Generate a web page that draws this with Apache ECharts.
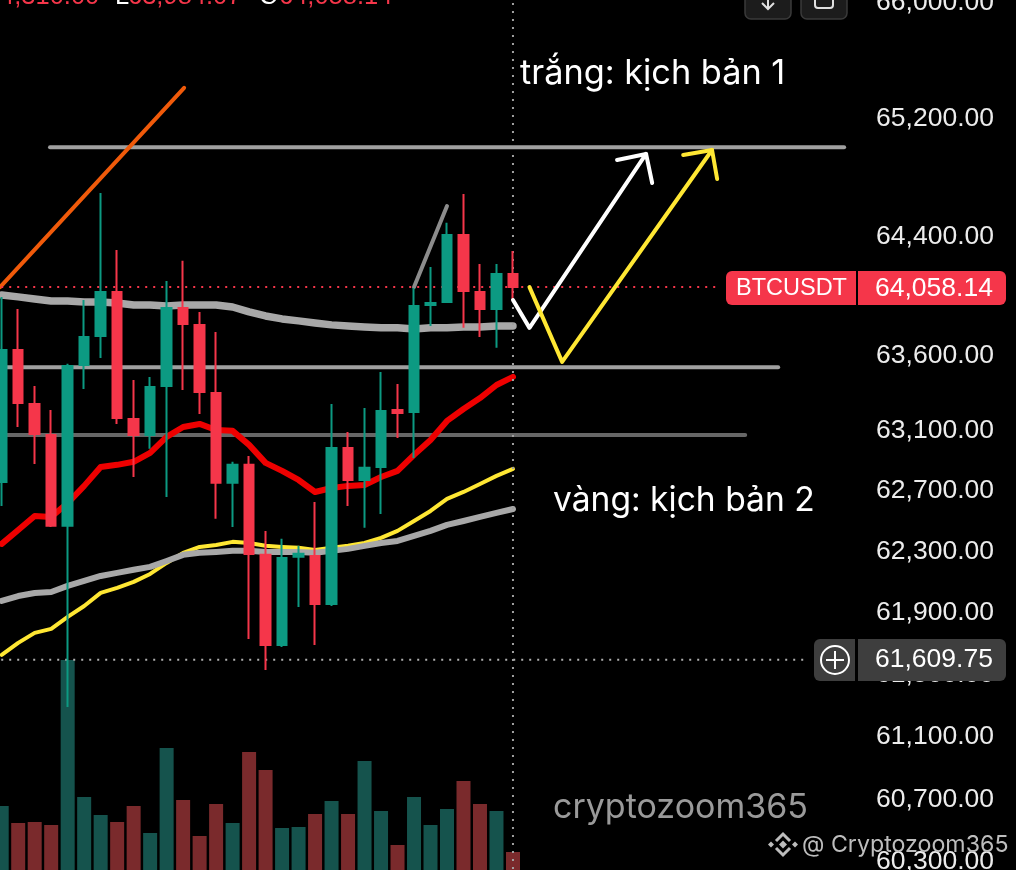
<!DOCTYPE html>
<html><head><meta charset="utf-8">
<style>html,body{margin:0;padding:0;background:#000;overflow:hidden;width:1016px;height:870px}
#c{position:absolute;left:-7px;top:-7px;width:1023px;height:877px}</style>
<script src="https://cdn.jsdelivr.net/npm/echarts@6/dist/echarts.min.js"></script>
</head><body><div id="c"></div>
<script>
// category slots: 32 drawn bars + empty future slots
const categories = Array.from({length:62},(_,i)=>String(i));
const tickLabels = [66000,65200,64400,63600,63100,62700,62300,61900,61500,61100,60700,60300];
const lastPrice = 64058.14;
const crossPrice = 61597;
const candles = [
[62759,63636,62601,63991],[63636,63282,63123,63911],[63276,63077,62878,63396],[63070,62470,62463,63236],
[62470,63529,61292,63543],[63536,63723,63376,63971],[63730,64025,63583,64695],[64025,63183,63143,64309],
[63176,63070,62792,63436],[63070,63389,62978,63456],[63396,63917,62660,64099],[63917,63810,63369,64235],
[63804,63356,63209,63891],[63349,62753,62516,63757],[62753,62872,62463,62892],[62872,62286,61732,62931],
[62280,61693,61531,62437],[61693,62260,61680,62385],[62267,62287,61940,62339],[62273,61959,61693,62627],
[61959,62984,61946,63276],[62984,62772,62601,63090],[62772,62852,62457,63249],[62858,63229,62548,63489],
[63235,63215,63050,63409],[63223,63931,62918,64052],[63938,63951,63797,64194],[63958,64410,63951,64492],
[64410,64032,63784,64688],[64025,63911,63723,64214],[63911,64147,63650,64214],[64147,64058.14,63971,64302]];
const volumes = [64,47,48,45,210,73,55,48,64,37,122,70,34,66,47,118,100,42,43,56,69,56,109,59,25,73,45,61,89,66,59,18];
const maRed = [62352,62443,62535,62529,62620,62733,62858,62872,62892,62951,63057,63123,63143,63103,63097,63004,62885,62832,62772,62693,62719,62733,62739,62792,62832,62938,63037,63163,63242,63315,63402,63456];
const maYellow = [61629,61706,61771,61797,61875,61946,62031,62064,62103,62155,62227,62293,62332,62345,62365,62358,62339,62332,62326,62312,62326,62339,62358,62391,62437,62502,62568,62647,62693,62746,62799,62845];
const maGrayLow = [61979,62011,62031,62037,62077,62109,62142,62162,62182,62201,62240,62280,62293,62299,62306,62306,62299,62299,62299,62293,62306,62319,62339,62358,62371,62404,62437,62476,62502,62529,62555,62581];
const maGrayHigh = [64005,63992,63978,63964,63964,63958,63958,63951,63938,63938,63931,63938,63938,63938,63924,63891,63864,63844,63831,63817,63804,63797,63790,63784,63784,63777,63784,63784,63790,63790,63797,63797];
// drawn trend lines: [slot, price]
const lineOrange = [[-0.1,64058],[11.06,65414]];
const lineGrayDiag = [[25,64058],[27,64606]];
const levelTop = [[2.93,65006],[51.08,65006]];
const levelMid = [[-1,63521],[47.08,63521]];
const levelLow = [[-1,63070],[45.08,63070]];
const arrowWhite = [[31,63971],[32,63784],[39.07,64961]];
const arrowWhiteHead = [[37.31,64920],[39.07,64961],[39.44,64763]];
const arrowYellow = [[32,64058],[33.98,63556],[43.07,64988]];
const arrowYellowHead = [[41.32,64954],[43.07,64988],[43.38,64790]];
const priceDots = [[-1,lastPrice],[43.6,lastPrice]];
const crossDots = [[-1,crossPrice],[48.9,crossPrice]];
const vertDots = [[31,60256],[31,66069]];

const UP='#0C9A82', DOWN='#F5364A', VUP='#15534D', VDOWN='#7A2A2C';
const FONT='Inter, Roboto, sans-serif';
const NUM='"Liberation Sans", Arial, sans-serif';
function overlay(data,color,width,z,extra){
  return {type:'line',xAxisIndex:1,yAxisIndex:0,data:data,symbol:'none',silent:true,animation:false,z:z,clip:false,
    lineStyle:Object.assign({color:color,width:width,cap:'round',join:'round'},extra||{})};
}
function ma(data,color,width,z){
  return {type:'line',xAxisIndex:0,yAxisIndex:0,data:data,symbol:'none',silent:true,animation:false,z:z,
    lineStyle:{color:color,width:width,cap:'round',join:'round'}};
}
function txt(t,x,y,size,color,font){
  return {type:'text',z:100,x:x,y:y,style:{text:t,fill:color,font:size+'px '+(font||FONT),align:'left',verticalAlign:'middle'}};
}
function box(x,y,w,h,fill,r){
  return {type:'rect',z:90,shape:{x:x,y:y,width:w,height:h,r:r},style:{fill:fill}};
}
function poly(points,stroke,w){
  return {type:'polyline',z:101,shape:{points:points},style:{stroke:stroke,lineWidth:w,fill:null,lineCap:'butt'}};
}
function dia(cx,cy,r,fill){
  return {type:'polygon',z:101,shape:{points:[[cx,cy-r],[cx+r,cy],[cx,cy+r],[cx-r,cy]]},style:{fill:fill}};
}
const WM='#bdbdbd';
const graphics=[
  txt('4,310.00',0,-3,25.5,DOWN,NUM),
  txt('L',115,-3,25.5,'#ffffff',NUM),
  txt('63,984.07',128,-3,25.5,DOWN,NUM),
  txt('C',259,-3,25.5,'#ffffff',NUM),
  txt('64,058.14',279,-3,25.5,DOWN,NUM),
  {type:'rect',z:90,shape:{x:745,y:-12,width:46,height:31,r:6},style:{fill:'#1c1c1c',stroke:'#3a3a3a',lineWidth:1.5}},
  {type:'rect',z:90,shape:{x:801,y:-12,width:46,height:31,r:6},style:{fill:'#1c1c1c',stroke:'#3a3a3a',lineWidth:1.5}},
  poly([[762,3],[768,9],[774,3]],'#e0e0e0',2),
  poly([[768,0],[768,8]],'#e0e0e0',2),
  {type:'rect',z:101,shape:{x:815,y:-8,width:18,height:16,r:3},style:{fill:null,stroke:'#e0e0e0',lineWidth:2}},
  txt('trắng: kịch bản 1',520,74,34.3,'#ffffff'),
  txt('vàng: kịch bản 2',553,501,33.6,'#ffffff'),
  txt('cryptozoom365',553,808,34,'#9a9a9a'),
  box(726,271,130,34,DOWN,[6,0,0,6]),
  box(858,271,148,34,DOWN,[0,6,6,0]),
  txt('BTCUSDT',736,288.5,23.5,'#ffffff',NUM),
  txt('64,058.14',875,288.5,26.5,'#ffffff',NUM),
  box(814,639,41,42,'#3e3e3e',[6,0,0,6]),
  box(858,639,148,42,'#3e3e3e',[0,6,6,0]),
  {type:'circle',z:101,shape:{cx:835,cy:660,r:14},style:{fill:null,stroke:'#ffffff',lineWidth:2}},
  poly([[826,660],[844,660]],'#ffffff',2),
  poly([[835,651],[835,669]],'#ffffff',2),
  txt('61,609.75',875,659.5,26.5,'#ffffff',NUM),
  poly([[776,841],[783,834],[790,841]],WM,3),
  poly([[776,848],[783,855],[790,848]],WM,3),
  dia(771,844.5,3,WM),dia(795,844.5,3,WM),dia(783,844.5,4,WM),
  txt('@ Cryptozoom365',802,845,23.2,WM)
];
const chart=echarts.init(document.getElementById('c'),null,{renderer:'canvas'});
chart.setOption({
  backgroundColor:'#000',animation:false,
  grid:[
    {left:0.46,right:0,top:0,bottom:0.9,outerBoundsMode:'none'},
    {left:0.46,right:0,top:0,bottom:0,outerBoundsMode:'none'}
  ],
  xAxis:[
    {type:'category',gridIndex:0,data:categories,show:false,boundaryGap:true},
    {type:'value',gridIndex:0,min:-0.5,max:61.5,show:false},
    {type:'category',gridIndex:1,data:categories,show:false,boundaryGap:true}
  ],
  yAxis:[
    {type:'log',gridIndex:0,min:60255.96,max:66069.45,position:'right',splitLine:{show:false},axisLine:{show:false},axisTick:{show:false},
     axisLabel:{inside:true,margin:22,padding:[2,0,0,0],customValues:tickLabels,color:'#ececec',fontFamily:NUM,fontSize:26.5,
       formatter:v=>Number(v).toLocaleString('en-US',{minimumFractionDigits:2,maximumFractionDigits:2})}},
    {type:'value',gridIndex:1,min:0,max:877,show:false}
  ],
  series:[
    {type:'bar',xAxisIndex:2,yAxisIndex:1,barWidth:14,z:1,silent:true,animation:false,
     data:volumes.map((v,i)=>({value:v,itemStyle:{color:candles[i][1]>=candles[i][0]?VUP:VDOWN}}))},
    overlay(levelMid,'#a0a0a0',4,2),
    overlay(levelLow,'#666666',4,2),
    overlay(levelTop,'#a0a0a0',4,2),
    overlay(lineOrange,'#F05A0A',4,2),
    overlay(lineGrayDiag,'#8c8c8c',4,2),
    ma(maYellow,'#FFE733',4,3),
    ma(maGrayLow,'#A8A8A8',6,3),
    ma(maRed,'#EE0000',6,3),
    ma(maGrayHigh,'#A8A8A8',7.5,3),
    overlay(priceDots,DOWN,2,3,{type:[2,6],cap:'butt'}),
    overlay(crossDots,'#b0b0b0',2,3,{type:[2,6],cap:'butt'}),
    overlay(vertDots,'#a0a0a0',2,3,{type:[2,6],cap:'butt'}),
    {type:'candlestick',xAxisIndex:0,yAxisIndex:0,data:candles,barWidth:10,z:5,silent:true,animation:false,
     itemStyle:{color:UP,color0:DOWN,borderColor:UP,borderColor0:DOWN,borderColorDoji:UP,borderWidth:2}},
    overlay(arrowWhite,'#ffffff',4,6),
    overlay(arrowWhiteHead,'#ffffff',4,6),
    overlay(arrowYellow,'#FFE733',4,6),
    overlay(arrowYellowHead,'#FFE733',4,6)
  ],
  graphic:[{type:'group',x:7,y:7,children:graphics}]
});
</script></body></html>
